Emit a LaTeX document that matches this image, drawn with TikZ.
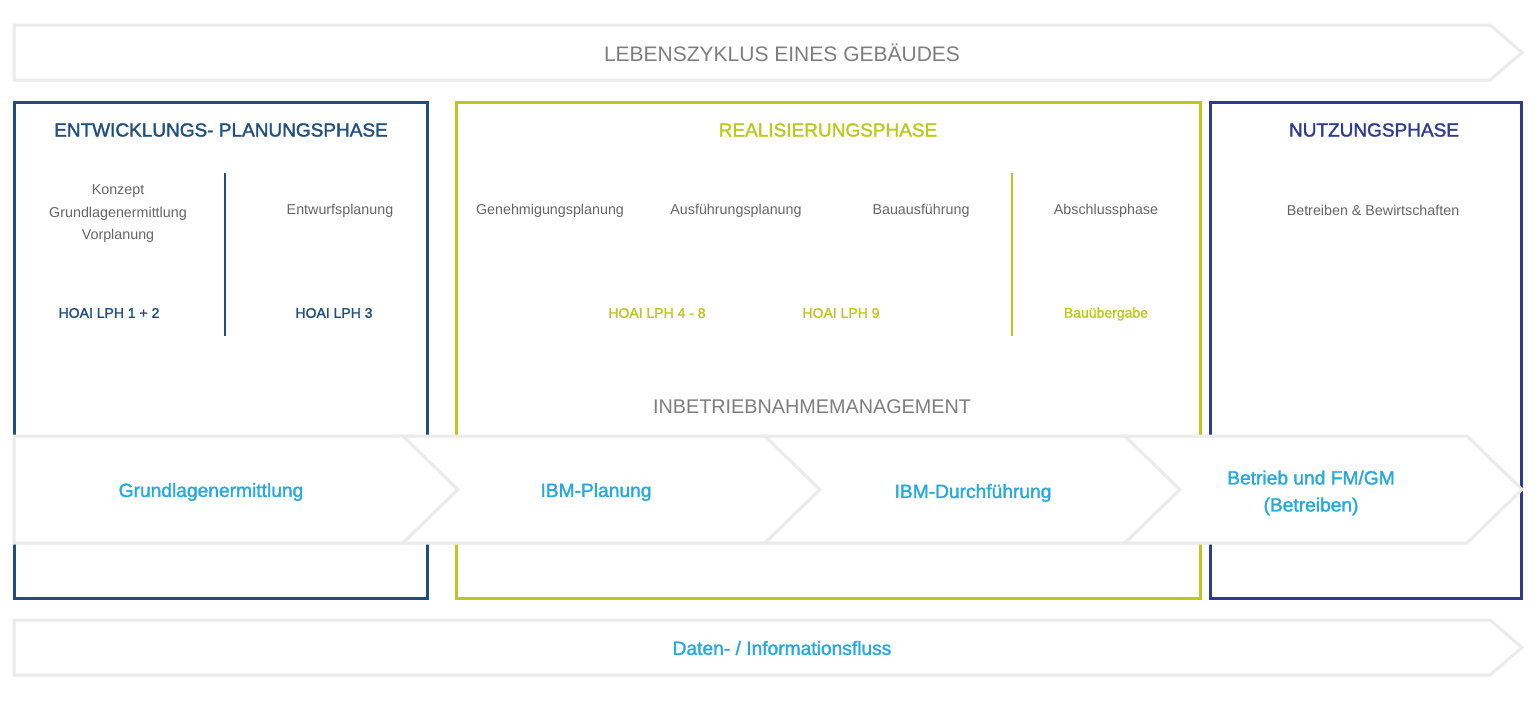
\documentclass[tikz,border=0pt]{standalone}
\usepackage{fontspec}
\setmainfont{Liberation Sans}
\newfontfamily\medfont{Liberation Sans}[FakeBold=1.6]
\definecolor{cblue}{HTML}{1F4F7F}
\definecolor{cgreen}{HTML}{BDC81C}
\definecolor{cnavy}{HTML}{2E3A94}
\definecolor{ccyan}{HTML}{27A9DD}
\definecolor{cgray}{HTML}{666666}
\definecolor{clight}{HTML}{7E7E7E}
\definecolor{cedge}{HTML}{EBEBEB}
\tikzset{
  chev/.style={draw=cedge, line width=3pt, fill=white, line join=miter},
  phasebox/.style={line width=3pt},
  divline/.style={line width=1.4pt},
  small/.style={font=\fontsize{14.3}{22}\selectfont, text=cgray, inner sep=0pt, align=center},
  hoai/.style={font=\medfont\fontsize{14}{17}\selectfont, inner sep=0pt},
  head/.style={font=\medfont\fontsize{19}{22}\selectfont, inner sep=0pt},
  chevtxt/.style={font=\medfont\fontsize{19.2}{27}\selectfont, text=ccyan, inner sep=0pt, align=center},
  bigtxt/.style={font=\fontsize{21}{24}\selectfont, text=clight, inner sep=0pt},
}
\begin{document}
\begin{tikzpicture}[x=1pt,y=-1pt]
\useasboundingbox[fill=white] (0,0) rectangle (1536,702);
% top arrow
\draw[chev] (14,25) -- (1490,25) -- (1522,52.5) -- (1490,80) -- (14,80) -- cycle;
\node[bigtxt] (title) at (782,53) {LEBENSZYKLUS EINES GEBÄUDES};
% phase boxes
\draw[phasebox, draw=cblue] (14,102) rectangle (427,598);
\draw[phasebox, draw=cgreen] (456,102) rectangle (1200,598);
\draw[phasebox, draw=cnavy] (1210,102) rectangle (1521,598);
% headings
\node[head, text=cblue] (h1) at (221,130) {ENTWICKLUNGS- PLANUNGSPHASE};
\node[head, text=cgreen] (h2) at (828,130) {REALISIERUNGSPHASE};
\node[head, text=cnavy] (h3) at (1374,130) {NUTZUNGSPHASE};
% dividers
\draw[divline, draw=cblue] (225,173) -- (225,336);
\draw[divline, draw=cgreen] (1012,173) -- (1012,336);
% left box texts
\node[small] (k1) at (118,191.5) {Konzept};
\node[small] (k2) at (118,213.5) {Grundlagenermittlung};
\node[small] (k3) at (118,235.5) {Vorplanung};
\node[small] (ent) at (340,210.5) {Entwurfsplanung};
\node[hoai, text=cblue] (l12) at (109,313) {HOAI LPH 1 + 2};
\node[hoai, text=cblue] (l3) at (334,313) {HOAI LPH 3};
% middle box texts
\node[small] (gen) at (550,210.5) {Genehmigungsplanung};
\node[small] (aus) at (736,210.5) {Ausführungsplanung};
\node[small] (bau) at (921,210.5) {Bauausführung};
\node[small] (abs) at (1106,210.5) {Abschlussphase};
\node[hoai, text=cgreen] (l48) at (657,313) {HOAI LPH 4 - 8};
\node[hoai, text=cgreen] (l9) at (841,313) {HOAI LPH 9};
\node[hoai, text=cgreen] (bue) at (1106,314) {Bauübergabe};
% right box text
\node[small] (bb) at (1373,210.5) {Betreiben \& Bewirtschaften};
% IBM label
\node[bigtxt, font=\fontsize{19.8}{23}\selectfont] (ibm) at (812,407) {INBETRIEBNAHMEMANAGEMENT};
% chevrons
\draw[chev] (14,436) -- (403,436) -- (458,489.5) -- (403,543) -- (14,543) -- cycle;
\draw[chev] (403,436) -- (765,436) -- (820,489.5) -- (765,543) -- (403,543) -- (458,489.5) -- cycle;
\draw[chev] (765,436) -- (1125,436) -- (1180,489.5) -- (1125,543) -- (765,543) -- (820,489.5) -- cycle;
\draw[chev] (1125,436) -- (1467,436) -- (1522,489.5) -- (1467,543) -- (1125,543) -- (1180,489.5) -- cycle;
\node[chevtxt] (c1) at (211,492) {Grundlagenermittlung};
\node[chevtxt] (c2) at (596,492) {IBM-Planung};
\node[chevtxt] (c3) at (973,493) {IBM-Durchführung};
\node[chevtxt] (c4) at (1311,493) {Betrieb und FM/GM\\(Betreiben)};
% bottom arrow
\draw[chev] (14,620) -- (1490,620) -- (1522,647.5) -- (1490,675) -- (14,675) -- cycle;
\node[chevtxt] (daten) at (782,648) {Daten- / Informationsfluss};
\end{tikzpicture}
\end{document}
